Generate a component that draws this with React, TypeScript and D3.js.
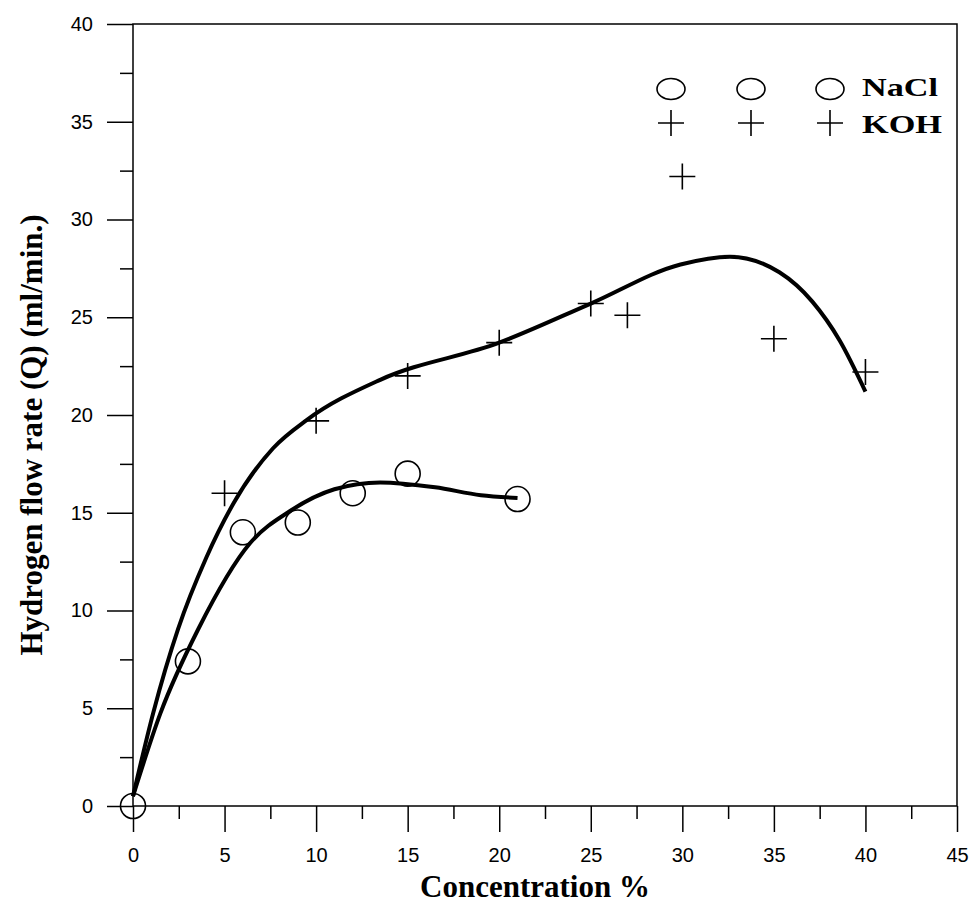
import * as d3 from "d3";
import { useEffect, useRef } from "react";

const W = 979;
const H = 903;
const margin = { top: 24, right: 22, bottom: 97, left: 133 };

// measured points
const naclConc = [0, 3, 6, 9, 12, 15, 21];
const naclFlow = [0, 7.4, 14, 14.5, 16, 17, 15.7];
const kohConc = [5, 10, 15, 20, 25, 27, 30, 35, 40];
const kohFlow = [16, 19.7, 22, 23.7, 25.7, 25.1, 32.2, 23.9, 22.2];

// fitted trend curves
const naclFitX = [0, 1.5, 3.56, 6.4, 8.6, 11, 13.5, 16.5, 19, 21];
const naclFitY = [0.5, 4.75, 9.04, 13.45, 15.1, 16.2, 16.55, 16.3, 15.9, 15.75];
const kohFitX = [0, 1.1, 2.46, 4, 5.5, 7.65, 9.5, 13.5, 20, 25, 29.9, 32.6, 35.3, 37.1, 38.6, 40];
const kohFitY = [0.5, 4.75, 9.05, 12.7, 15.5, 18.3, 19.75, 21.8, 23.7, 25.7, 27.7, 28.1, 27.3, 25.8, 23.8, 21.2];

const xMajor = [0, 5, 10, 15, 20, 25, 30, 35, 40, 45];
const xMinor = [2.5, 7.5, 12.5, 17.5, 22.5, 27.5, 32.5, 37.5, 42.5];
const yMajor = [0, 5, 10, 15, 20, 25, 30, 35, 40];
const yMinor = [2.5, 7.5, 12.5, 17.5, 22.5, 27.5, 32.5, 37.5];

const legendNames = ["NaCl", "KOH"];

function drawChart(el: SVGSVGElement) {
  const svg = d3.select(el);
  svg.selectAll("*").remove();

  const width = W - margin.left - margin.right;
  const height = H - margin.top - margin.bottom;

  const x = d3.scaleLinear().domain([0, 45]).range([0, width]);
  const y = d3.scaleLinear().domain([0, 40]).range([height, 0]);

  const chart = svg
    .append("g")
    .attr("transform", `translate(${margin.left},${margin.top})`);

  // bottom axis: majors with labels, then minors
  const xAxis = chart
    .append("g")
    .attr("transform", `translate(0,${height})`)
    .call(
      d3.axisBottom(x).tickValues(xMajor).tickSize(26).tickPadding(16).tickFormat(d3.format("d"))
    );
  chart
    .append("g")
    .attr("transform", `translate(0,${height})`)
    .call(d3.axisBottom(x).tickValues(xMinor).tickSize(13).tickFormat(() => ""));

  const yAxis = chart
    .append("g")
    .call(d3.axisLeft(y).tickValues(yMajor).tickSize(26).tickPadding(14).tickFormat(d3.format("d")));
  chart
    .append("g")
    .call(d3.axisLeft(y).tickValues(yMinor).tickSize(13).tickFormat(() => ""));

  chart.selectAll(".domain").remove();
  chart.selectAll(".tick line").attr("stroke", "#000").attr("stroke-width", 1.5);
  [xAxis, yAxis].forEach((a) =>
    a
      .selectAll("text")
      .attr("fill", "#000")
      .style("font-family", "'Liberation Sans', Arial, sans-serif")
      .style("font-size", "20px")
  );

  // frame
  chart
    .append("rect")
    .attr("x", 0)
    .attr("y", 0)
    .attr("width", width)
    .attr("height", height)
    .attr("fill", "none")
    .attr("stroke", "#000")
    .attr("stroke-width", 1.5);

  // trend curves
  const line = d3
    .line<number>()
    .x((d) => x(d))
    .curve(d3.curveMonotoneX);

  const drawFit = (xs: number[], ys: number[]) =>
    chart
      .append("path")
      .attr("d", line.y((_, i) => y(ys[i]))(xs))
      .attr("fill", "none")
      .attr("stroke", "#000")
      .attr("stroke-width", 4);

  drawFit(kohFitX, kohFitY);
  drawFit(naclFitX, naclFitY);

  // NaCl circles
  chart
    .append("g")
    .selectAll("circle")
    .data(naclConc)
    .enter()
    .append("circle")
    .attr("cx", (d) => x(d))
    .attr("cy", (_, i) => y(naclFlow[i]))
    .attr("r", 12.5)
    .attr("fill", "none")
    .attr("stroke", "#000")
    .attr("stroke-width", 1.6);

  // KOH crosses
  const s = 13;
  chart
    .append("g")
    .selectAll("path")
    .data(kohConc)
    .enter()
    .append("path")
    .attr(
      "d",
      (d, i) =>
        `M${x(d) - s},${y(kohFlow[i])}H${x(d) + s}M${x(d)},${y(kohFlow[i]) - s}V${y(kohFlow[i]) + s}`
    )
    .attr("stroke", "#000")
    .attr("stroke-width", 1.6);

  // legend
  const lg = svg.append("g");
  const symX = [671, 751, 830];
  symX.forEach((sx) => {
    lg.append("ellipse")
      .attr("cx", sx)
      .attr("cy", 89)
      .attr("rx", 14)
      .attr("ry", 10.5)
      .attr("fill", "none")
      .attr("stroke", "#000")
      .attr("stroke-width", 1.6);
    lg.append("path")
      .attr("d", `M${sx - s},123H${sx + s}M${sx},${123 - s}V${123 + s}`)
      .attr("stroke", "#000")
      .attr("stroke-width", 1.6);
  });
  const legendY = [96, 133];
  const legendLen = [76, 80];
  legendNames.forEach((name, i) => {
    lg.append("text")
      .attr("x", 862)
      .attr("y", legendY[i])
      .attr("textLength", legendLen[i])
      .attr("lengthAdjust", "spacingAndGlyphs")
      .style("font-family", "'Liberation Serif', 'Times New Roman', serif")
      .style("font-weight", "bold")
      .style("font-size", i === 0 ? "25px" : "26px")
      .text(name);
  });

  // axis titles
  svg
    .append("text")
    .attr("x", 535)
    .attr("y", 897)
    .attr("text-anchor", "middle")
    .style("font-family", "'Liberation Serif', 'Times New Roman', serif")
    .style("font-weight", "bold")
    .style("font-size", "31px")
    .text("Concentration %");

  svg
    .append("text")
    .attr("transform", "translate(42,435)rotate(-90)")
    .attr("text-anchor", "middle")
    .style("font-family", "'Liberation Serif', 'Times New Roman', serif")
    .style("font-weight", "bold")
    .style("font-size", "31px")
    .text("Hydrogen flow rate (Q) (ml/min.)");
}

export default function App() {
  const ref = useRef<SVGSVGElement>(null);

  useEffect(() => {
    if (ref.current) drawChart(ref.current);
  }, []);

  return (
    <div style={{ position: "absolute", left: 0, top: 0 }}>
      <svg ref={ref} width={W} height={H} style={{ display: "block", background: "#fff" }} />
    </div>
  );
}
